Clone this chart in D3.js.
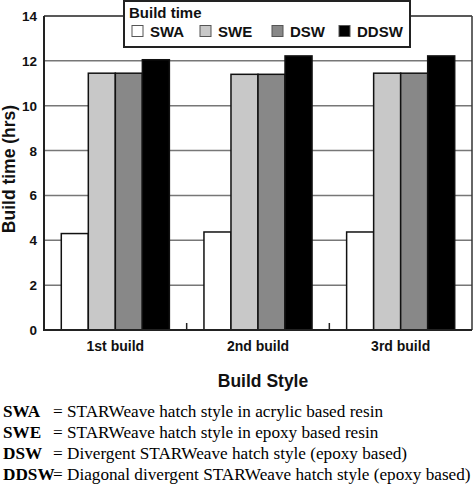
<!DOCTYPE html>
<html><head><meta charset="utf-8">
<script src="https://cdn.jsdelivr.net/npm/d3@7"></script>
<style>body{margin:0;background:#fff}svg{display:block}</style>
</head><body>
<script>
const categories = ["1st build", "2nd build", "3rd build"];
const seriesNames = ["SWA", "SWE", "DSW", "DDSW"];
const SWA = [4.30, 4.37, 4.37];
const SWE = [11.45, 11.40, 11.45];
const DSW = [11.45, 11.40, 11.45];
const DDSW = [12.05, 12.22, 12.22];
const yTicks = [0, 2, 4, 6, 8, 10, 12, 14];
const footKeys = ["SWA", "SWE", "DSW", "DDSW"];
const footTexts = [
  "= STARWeave hatch style in acrylic based resin",
  "= STARWeave hatch style in epoxy based resin",
  "= Divergent STARWeave hatch style (epoxy based)",
  "= Diagonal divergent STARWeave hatch style (epoxy based)"
];
const colors = ["#ffffff", "#c8c8c8", "#888888", "#000000"];
const values = [SWA, SWE, DSW, DDSW];

const W = 474, H = 484;
const m = {l: 44, r: 2, t: 16, b: 154};
const svg = d3.select("body").append("svg").attr("width", W).attr("height", H);
const x0 = d3.scaleBand().domain(categories).range([m.l, W - m.r]).paddingInner(0).paddingOuter(0);
const x1 = d3.scaleBand().domain(seriesNames).range([0, x0.bandwidth()]).paddingInner(0).paddingOuter(0.64);
const y = d3.scaleLinear().domain([0, 14]).range([H - m.b, m.t]);

// gridlines
svg.append("g").selectAll("line").data(yTicks.filter(d => d > 0)).join("line")
  .attr("x1", m.l).attr("x2", W - m.r).attr("y1", d => y(d)).attr("y2", d => y(d))
  .attr("stroke", "#777").attr("stroke-width", 1.5);

// y tick labels
svg.append("g").selectAll("text").data(yTicks).join("text")
  .attr("x", 37).attr("y", d => y(d) + 5).attr("text-anchor", "end")
  .attr("font-family", "Liberation Sans, Arial, sans-serif").attr("font-weight", "bold")
  .attr("font-size", 13.5).attr("fill", "#111").text(d => d);

// bars
const g = svg.append("g");
categories.forEach((c, i) => {
  seriesNames.forEach((s, j) => {
    g.append("rect")
      .attr("x", x0(c) + x1(s)).attr("width", x1.bandwidth())
      .attr("y", y(values[j][i])).attr("height", y(0) - y(values[j][i]))
      .attr("fill", colors[j]).attr("stroke", "#111").attr("stroke-width", 1.5);
  });
});

// frame
svg.append("line").attr("x1", W - m.r).attr("x2", W - m.r).attr("y1", m.t).attr("y2", y(0))
  .attr("stroke", "#333").attr("stroke-width", 1.5);
svg.append("line").attr("x1", m.l).attr("x2", W - m.r).attr("y1", m.t).attr("y2", m.t)
  .attr("stroke", "#444").attr("stroke-width", 1.5);
// axes
svg.append("line").attr("x1", m.l).attr("x2", m.l).attr("y1", m.t).attr("y2", y(0) + 1)
  .attr("stroke", "#222").attr("stroke-width", 2);
svg.append("line").attr("x1", m.l).attr("x2", W - m.r).attr("y1", y(0)).attr("y2", y(0))
  .attr("stroke", "#222").attr("stroke-width", 2);
// category ticks
svg.append("g").selectAll("line").data(categories.slice(1)).join("line")
  .attr("x1", d => x0(d)).attr("x2", d => x0(d)).attr("y1", y(0)).attr("y2", y(0) - 7)
  .attr("stroke", "#222").attr("stroke-width", 1.5);

// category labels
svg.append("g").selectAll("text").data(categories).join("text")
  .attr("x", d => x0(d) + x0.bandwidth() / 2).attr("y", 351).attr("text-anchor", "middle")
  .attr("font-family", "Liberation Sans, Arial, sans-serif").attr("font-weight", "bold")
  .attr("font-size", 14).attr("fill", "#111").text(d => d);

// axis titles
svg.append("text").attr("x", 263).attr("y", 387).attr("text-anchor", "middle")
  .attr("font-family", "Liberation Sans, Arial, sans-serif").attr("font-weight", "bold")
  .attr("font-size", 17.5).attr("fill", "#111").text("Build Style");
svg.append("text").attr("transform", "translate(14.5,169) rotate(-90)").attr("text-anchor", "middle")
  .attr("font-family", "Liberation Sans, Arial, sans-serif").attr("font-weight", "bold")
  .attr("font-size", 17.5).attr("fill", "#111").text("Build time (hrs)");

// legend
const lg = svg.append("g");
lg.append("rect").attr("x", 124).attr("y", 1).attr("width", 286).attr("height", 46)
  .attr("fill", "#fff").attr("stroke", "#222").attr("stroke-width", 2);
lg.append("text").attr("x", 129).attr("y", 18)
  .attr("font-family", "Liberation Sans, Arial, sans-serif").attr("font-weight", "bold")
  .attr("font-size", 15).attr("fill", "#111").text("Build time");
const legX = [132, 200, 272, 339];
seriesNames.forEach((s, j) => {
  lg.append("rect").attr("x", legX[j]).attr("y", 25.5).attr("width", 11).attr("height", 11)
    .attr("fill", colors[j]).attr("stroke", "#555").attr("stroke-width", 1);
  lg.append("text").attr("x", legX[j] + 18).attr("y", 36.5)
    .attr("font-family", "Liberation Sans, Arial, sans-serif").attr("font-weight", "bold")
    .attr("font-size", 15).attr("fill", "#111").text(s);
});

// footnote
const ft = svg.append("g").attr("font-family", "Liberation Serif, Times New Roman, serif")
  .attr("font-size", 17.2).attr("fill", "#000");
footKeys.forEach((k, i) => {
  const yy = 417 + i * 21;
  ft.append("text").attr("x", 3).attr("y", yy).attr("font-weight", "bold").text(k);
  ft.append("text").attr("x", 53).attr("y", yy).text(footTexts[i]);
});
</script>
</body></html>
